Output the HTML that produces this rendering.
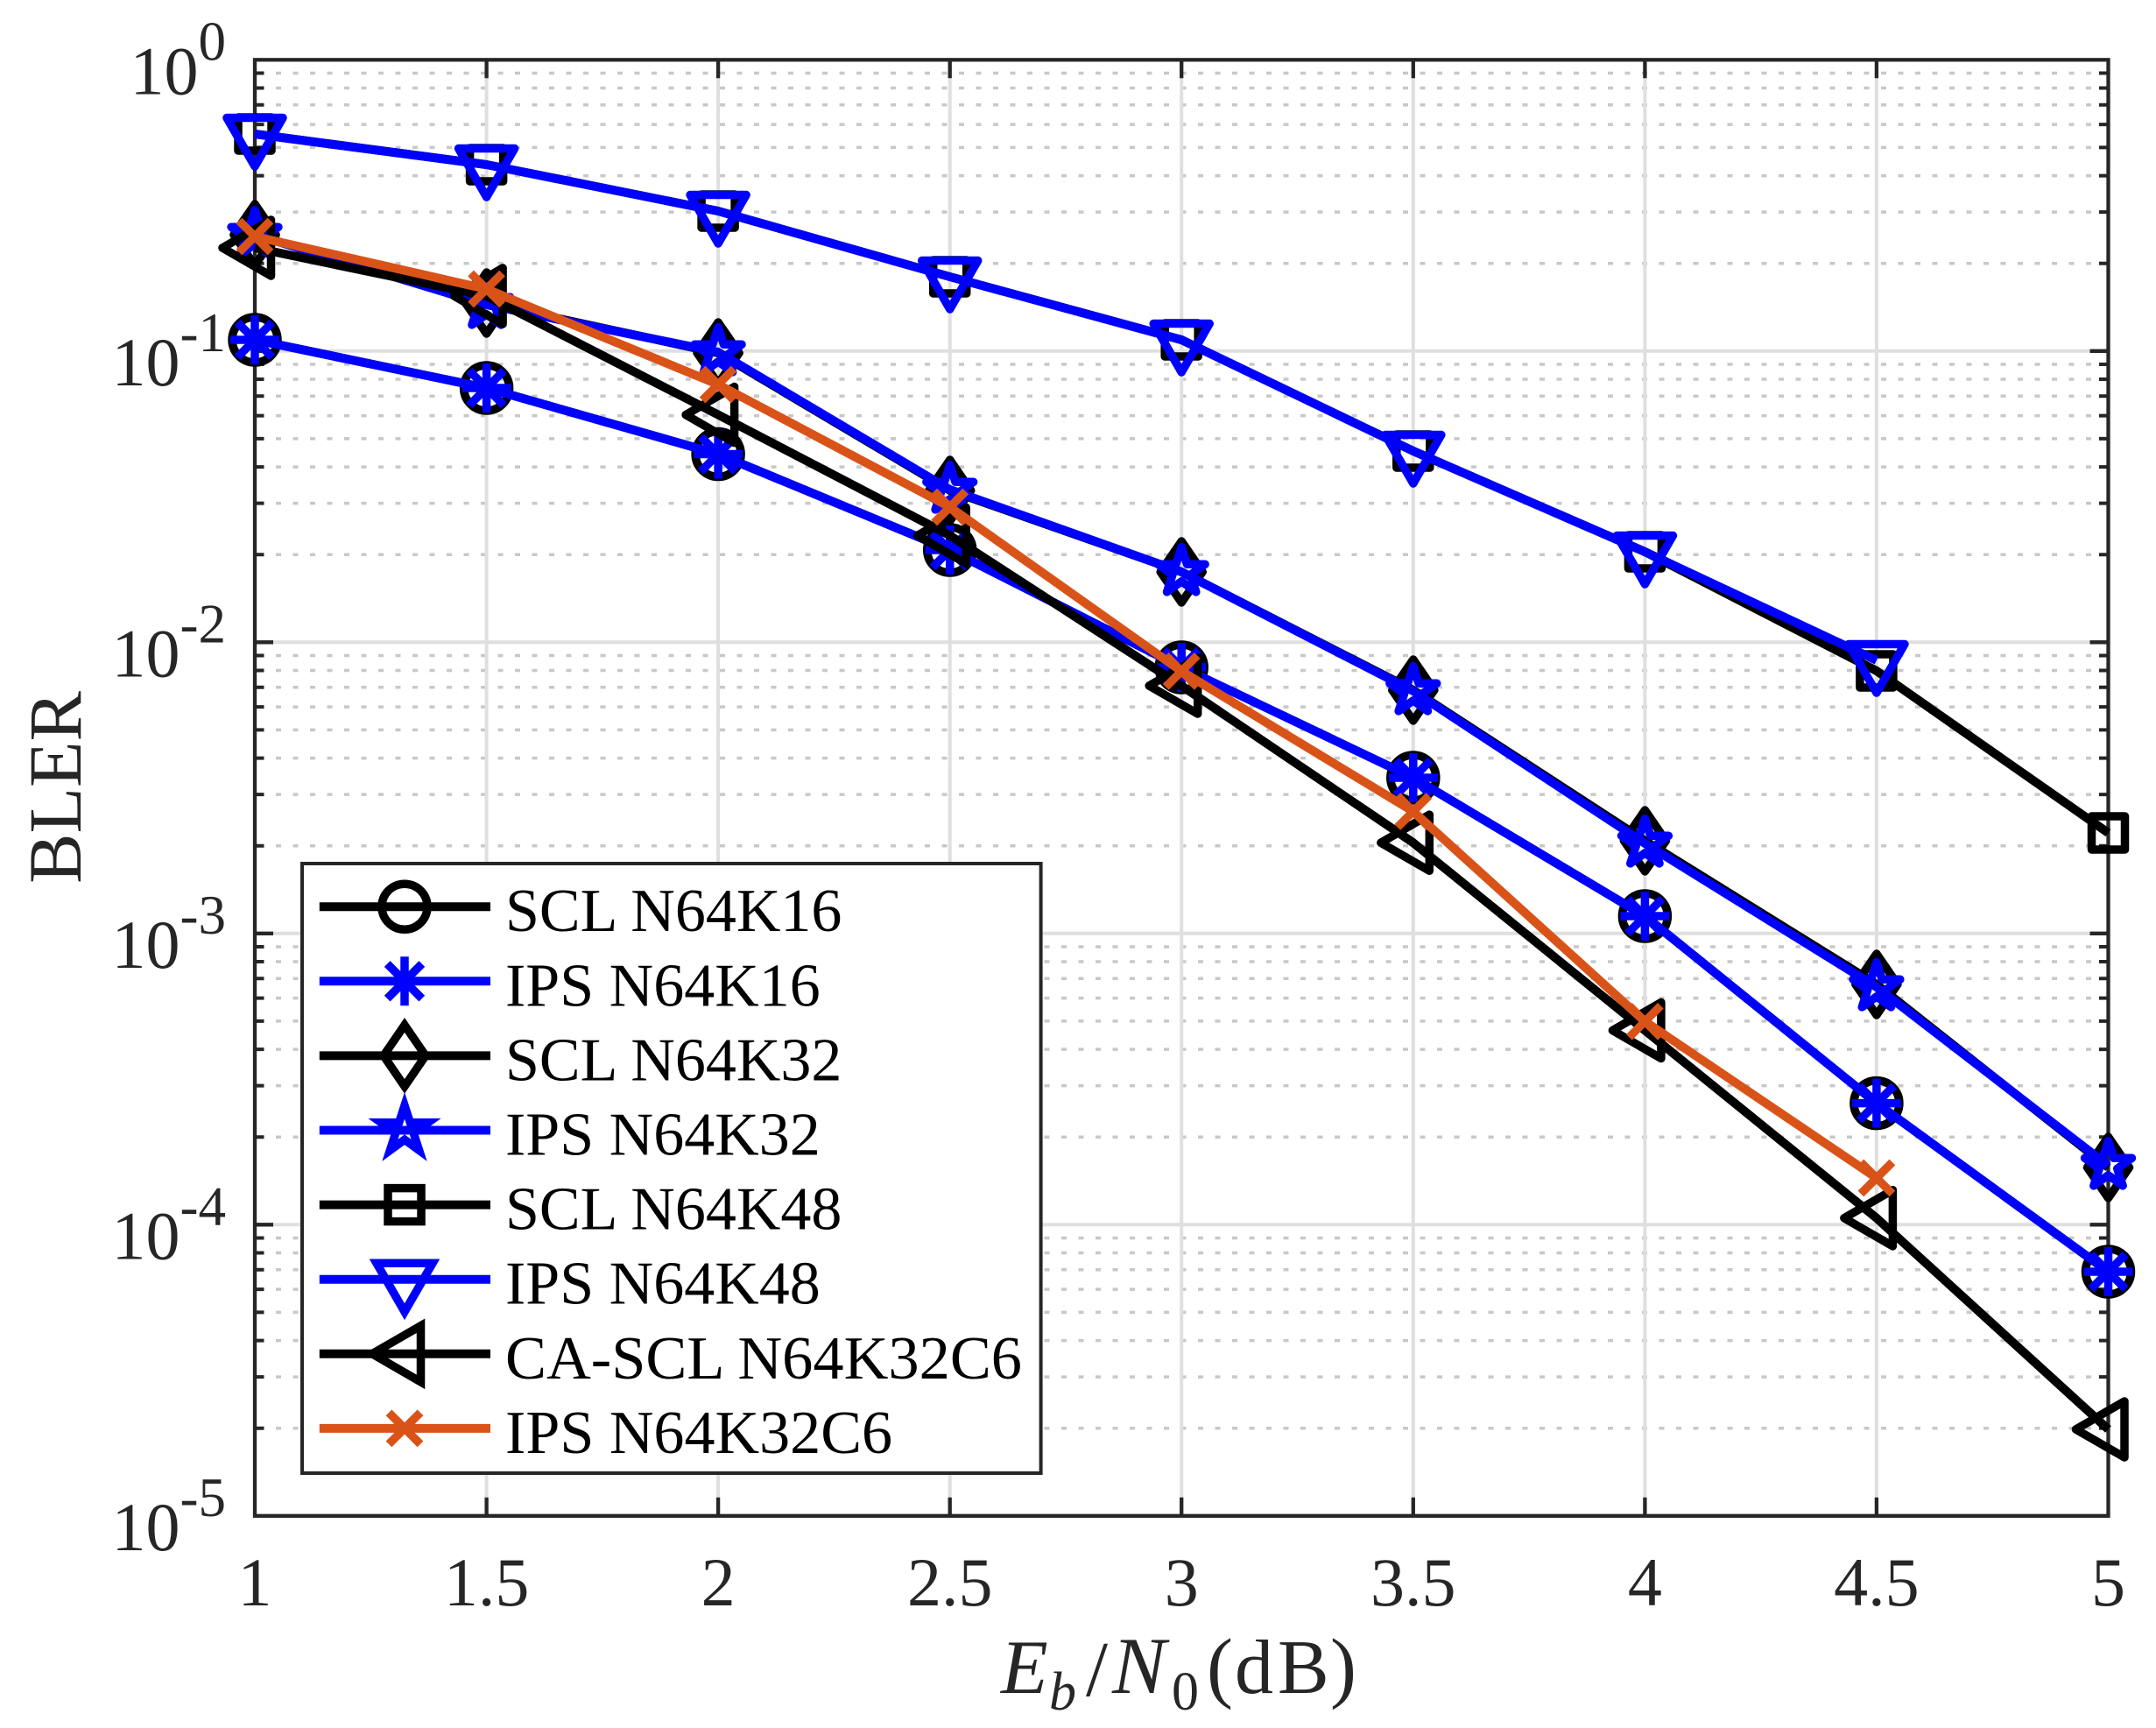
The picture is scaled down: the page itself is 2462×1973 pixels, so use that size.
<!DOCTYPE html>
<html>
<head>
<meta charset="utf-8">
<style>
  html,body{margin:0;padding:0;background:#fff;}
  svg{display:block;}
  text{font-family:"Liberation Serif","Times New Roman",serif;}
</style>
</head>
<body>
<svg width="2462" height="1973" viewBox="0 0 2462 1973" xmlns="http://www.w3.org/2000/svg">
  <defs>
    <g id="mgrid">
      <line x1="291" x2="2407.5" y1="83.52" y2="83.52"/>
      <line x1="291" x2="2407.5" y1="100.52" y2="100.52"/>
      <line x1="291" x2="2407.5" y1="119.80" y2="119.80"/>
      <line x1="291" x2="2407.5" y1="142.07" y2="142.07"/>
      <line x1="291" x2="2407.5" y1="168.39" y2="168.39"/>
      <line x1="291" x2="2407.5" y1="200.61" y2="200.61"/>
      <line x1="291" x2="2407.5" y1="242.16" y2="242.16"/>
      <line x1="291" x2="2407.5" y1="300.71" y2="300.71"/>
    </g>
    <g id="mtick">
      <path d="M291 83.52h10.5M291 100.52h10.5M291 119.80h10.5M291 142.07h10.5M291 168.39h10.5M291 200.61h10.5M291 242.16h10.5M291 300.71h10.5
               M2407.5 83.52h-10.5M2407.5 100.52h-10.5M2407.5 119.80h-10.5M2407.5 142.07h-10.5M2407.5 168.39h-10.5M2407.5 200.61h-10.5M2407.5 242.16h-10.5M2407.5 300.71h-10.5"/>
    </g>
    <circle id="mc" cx="0" cy="0" r="26" fill="none" stroke="#000" stroke-width="9.5"/>
    <path id="ma" d="M0,-28V28M-28,0H28M-19.8,-19.8L19.8,19.8M-19.8,19.8L19.8,-19.8" fill="none" stroke="#0000ff" stroke-width="9.5"/>
    <polygon id="md" points="0,-35 24,0 0,35 -24,0" fill="none" stroke="#000" stroke-width="9.5" stroke-miterlimit="10"/>
    <polygon id="mp" points="0,-28.3 6.35,-8.74 26.91,-8.75 10.27,3.34 16.63,22.9 0,10.8 -16.63,22.9 -10.27,3.34 -26.91,-8.75 -6.35,-8.74" fill="none" stroke="#0000ff" stroke-width="9.5" stroke-miterlimit="10"/>
    <rect id="ms" x="-19" y="-19" width="38" height="38" fill="none" stroke="#000" stroke-width="9.5"/>
    <polygon id="mv" points="0,37 32.04,-18.5 -32.04,-18.5" fill="none" stroke="#0000ff" stroke-width="9.5" stroke-miterlimit="10"/>
    <polygon id="ml" points="-37,0 18.5,-32.04 18.5,32.04" fill="none" stroke="#000" stroke-width="9.5" stroke-miterlimit="10"/>
    <path id="mx" d="M-18,-18L18,18M-18,18L18,-18" fill="none" stroke="#D95319" stroke-width="9.5"/>
  </defs>

  <rect x="0" y="0" width="2462" height="1973" fill="#fff"/>

  <!-- minor grid (dotted) -->
  <g stroke="#c8c8c8" stroke-width="3.5" stroke-dasharray="6 13.5" stroke-dashoffset="15" fill="none">
    <use href="#mgrid"/>
    <use href="#mgrid" transform="translate(0,332.5)"/>
    <use href="#mgrid" transform="translate(0,665)"/>
    <use href="#mgrid" transform="translate(0,997.5)"/>
    <use href="#mgrid" transform="translate(0,1330)"/>
  </g>

  <!-- major grid -->
  <g stroke="#dfdfdf" stroke-width="4" fill="none">
    <line x1="555.6" x2="555.6" y1="68.3" y2="1730.8"/>
    <line x1="820.1" x2="820.1" y1="68.3" y2="1730.8"/>
    <line x1="1084.7" x2="1084.7" y1="68.3" y2="1730.8"/>
    <line x1="1349.2" x2="1349.2" y1="68.3" y2="1730.8"/>
    <line x1="1613.8" x2="1613.8" y1="68.3" y2="1730.8"/>
    <line x1="1878.4" x2="1878.4" y1="68.3" y2="1730.8"/>
    <line x1="2142.9" x2="2142.9" y1="68.3" y2="1730.8"/>
    <line x1="291" x2="2407.5" y1="400.8" y2="400.8"/>
    <line x1="291" x2="2407.5" y1="733.3" y2="733.3"/>
    <line x1="291" x2="2407.5" y1="1065.8" y2="1065.8"/>
    <line x1="291" x2="2407.5" y1="1398.3" y2="1398.3"/>
  </g>

  <!-- axes box and ticks -->
  <g stroke="#262626" stroke-width="4.3" fill="none">
    <rect x="291" y="68.3" width="2116.5" height="1662.5"/>
    <path d="M555.6 1730.8v-21M820.1 1730.8v-21M1084.7 1730.8v-21M1349.2 1730.8v-21M1613.8 1730.8v-21M1878.4 1730.8v-21M2142.9 1730.8v-21
             M555.6 68.3v21M820.1 68.3v21M1084.7 68.3v21M1349.2 68.3v21M1613.8 68.3v21M1878.4 68.3v21M2142.9 68.3v21
             M291 400.8h21M291 733.3h21M291 1065.8h21M291 1398.3h21
             M2407.5 400.8h-21M2407.5 733.3h-21M2407.5 1065.8h-21M2407.5 1398.3h-21"/>
  </g>
  <g stroke="#262626" stroke-width="4" fill="none">
    <use href="#mtick"/>
    <use href="#mtick" transform="translate(0,332.5)"/>
    <use href="#mtick" transform="translate(0,665)"/>
    <use href="#mtick" transform="translate(0,997.5)"/>
    <use href="#mtick" transform="translate(0,1330)"/>
  </g>

  <!-- DATA -->
  <g fill="none" stroke-width="10" stroke-linejoin="round">
    <!-- SCL N64K16 -->
    <polyline stroke="#000" points="291,388 555.6,443 820.1,518.5 1084.7,628 1349.2,762 1613.8,888 1878.4,1046 2142.9,1259.6 2407.5,1452"/>
    <use href="#mc" x="291" y="388"/><use href="#mc" x="555.6" y="443"/><use href="#mc" x="820.1" y="518.5"/><use href="#mc" x="1084.7" y="628"/><use href="#mc" x="1349.2" y="762"/><use href="#mc" x="1613.8" y="888"/><use href="#mc" x="1878.4" y="1046"/><use href="#mc" x="2142.9" y="1259.6"/><use href="#mc" x="2407.5" y="1452"/>
    <!-- IPS N64K16 -->
    <polyline stroke="#0000ff" points="291,388 555.6,443 820.1,518.5 1084.7,628 1349.2,762 1613.8,888 1878.4,1046 2142.9,1259.6 2407.5,1452"/>
    <use href="#ma" x="291" y="388"/><use href="#ma" x="555.6" y="443"/><use href="#ma" x="820.1" y="518.5"/><use href="#ma" x="1084.7" y="628"/><use href="#ma" x="1349.2" y="762"/><use href="#ma" x="1613.8" y="888"/><use href="#ma" x="1878.4" y="1046"/><use href="#ma" x="2142.9" y="1259.6"/><use href="#ma" x="2407.5" y="1452"/>
    <!-- SCL N64K32 -->
    <polyline stroke="#000" points="291,268 555.6,346 820.1,403 1084.7,560 1349.2,653 1613.8,788 1878.4,960 2142.9,1124 2407.5,1333"/>
    <use href="#md" x="291" y="268"/><use href="#md" x="555.6" y="346"/><use href="#md" x="820.1" y="403"/><use href="#md" x="1084.7" y="560"/><use href="#md" x="1349.2" y="653"/><use href="#md" x="1613.8" y="788"/><use href="#md" x="1878.4" y="960"/><use href="#md" x="2142.9" y="1124"/><use href="#md" x="2407.5" y="1333"/>
    <!-- IPS N64K32 -->
    <polyline stroke="#0000ff" points="291,268 555.6,348 820.1,402 1084.7,559 1349.2,653 1613.8,789 1878.4,963 2142.9,1127 2407.5,1331"/>
    <use href="#mp" x="291" y="268"/><use href="#mp" x="555.6" y="348"/><use href="#mp" x="820.1" y="402"/><use href="#mp" x="1084.7" y="559"/><use href="#mp" x="1349.2" y="653"/><use href="#mp" x="1613.8" y="789"/><use href="#mp" x="1878.4" y="963"/><use href="#mp" x="2142.9" y="1127"/><use href="#mp" x="2407.5" y="1331"/>
    <!-- SCL N64K48 -->
    <polyline stroke="#000" points="291,153 555.6,188 820.1,241 1084.7,316 1349.2,388 1613.8,515 1878.4,630 2142.9,766 2407.5,951"/>
    <use href="#ms" x="291" y="153"/><use href="#ms" x="555.6" y="188"/><use href="#ms" x="820.1" y="241"/><use href="#ms" x="1084.7" y="316"/><use href="#ms" x="1349.2" y="388"/><use href="#ms" x="1613.8" y="515"/><use href="#ms" x="1878.4" y="630"/><use href="#ms" x="2142.9" y="766"/><use href="#ms" x="2407.5" y="951"/>
    <!-- IPS N64K48 -->
    <polyline stroke="#0000ff" points="291,153 555.6,188 820.1,241 1084.7,316 1349.2,388 1613.8,515 1878.4,630 2142.9,754"/>
    <use href="#mv" x="291" y="153"/><use href="#mv" x="555.6" y="188"/><use href="#mv" x="820.1" y="241"/><use href="#mv" x="1084.7" y="316"/><use href="#mv" x="1349.2" y="388"/><use href="#mv" x="1613.8" y="515"/><use href="#mv" x="1878.4" y="630"/><use href="#mv" x="2142.9" y="754"/>
    <!-- CA-SCL N64K32C6 -->
    <polyline stroke="#000" points="291,283 555.6,338 820.1,473.6 1084.7,611.4 1349.2,783 1613.8,962.2 1878.4,1176.5 2142.9,1390.8 2407.5,1632"/>
    <use href="#ml" x="291" y="283"/><use href="#ml" x="555.6" y="338"/><use href="#ml" x="820.1" y="473.6"/><use href="#ml" x="1084.7" y="611.4"/><use href="#ml" x="1349.2" y="783"/><use href="#ml" x="1613.8" y="962.2"/><use href="#ml" x="1878.4" y="1176.5"/><use href="#ml" x="2142.9" y="1390.8"/><use href="#ml" x="2407.5" y="1632"/>
    <!-- IPS N64K32C6 -->
    <polyline stroke="#D95319" points="291,270 555.6,330 820.1,439 1084.7,579 1349.2,766.4 1613.8,926.5 1878.4,1166.3 2142.9,1345"/>
    <use href="#mx" x="291" y="270"/><use href="#mx" x="555.6" y="330"/><use href="#mx" x="820.1" y="439"/><use href="#mx" x="1084.7" y="579"/><use href="#mx" x="1349.2" y="766.4"/><use href="#mx" x="1613.8" y="926.5"/><use href="#mx" x="1878.4" y="1166.3"/><use href="#mx" x="2142.9" y="1345"/>
  </g>

  <!-- LEGEND -->
  <rect x="345" y="986" width="843.6" height="696" fill="#fff" stroke="#262626" stroke-width="4"/>
  <g fill="none" stroke-width="10">
    <line x1="364.8" x2="560" y1="1035.2" y2="1035.2" stroke="#000"/>
    <use href="#mc" x="462" y="1035.2"/>
    <line x1="364.8" x2="560" y1="1120.3" y2="1120.3" stroke="#0000ff"/>
    <use href="#ma" x="462" y="1120.3"/>
    <line x1="364.8" x2="560" y1="1205.4" y2="1205.4" stroke="#000"/>
    <use href="#md" x="462" y="1205.4"/>
    <line x1="364.8" x2="560" y1="1290.5" y2="1290.5" stroke="#0000ff"/>
    <use href="#mp" x="462" y="1290.5"/>
    <line x1="364.8" x2="560" y1="1375.6" y2="1375.6" stroke="#000"/>
    <use href="#ms" x="462" y="1375.6"/>
    <line x1="364.8" x2="560" y1="1460.7" y2="1460.7" stroke="#0000ff"/>
    <use href="#mv" x="462" y="1460.7"/>
    <line x1="364.8" x2="560" y1="1545.8" y2="1545.8" stroke="#000"/>
    <use href="#ml" x="462" y="1545.8"/>
    <line x1="364.8" x2="560" y1="1630.9" y2="1630.9" stroke="#D95319"/>
    <use href="#mx" x="462" y="1630.9"/>
  </g>
  <g font-size="70" fill="#000">
    <text x="577" y="1063.2">SCL N64K16</text>
    <text x="577" y="1148.3">IPS N64K16</text>
    <text x="577" y="1233.4">SCL N64K32</text>
    <text x="577" y="1318.5">IPS N64K32</text>
    <text x="577" y="1403.6">SCL N64K48</text>
    <text x="577" y="1488.7">IPS N64K48</text>
    <text x="577" y="1573.8" textLength="590" lengthAdjust="spacingAndGlyphs">CA-SCL N64K32C6</text>
    <text x="577" y="1658.9" textLength="442" lengthAdjust="spacingAndGlyphs">IPS N64K32C6</text>
  </g>

  <!-- X tick labels -->
  <g font-size="78" fill="#262626" text-anchor="middle">
    <text x="291" y="1833">1</text>
    <text x="555.6" y="1833">1.5</text>
    <text x="820.1" y="1833">2</text>
    <text x="1084.7" y="1833">2.5</text>
    <text x="1349.2" y="1833">3</text>
    <text x="1613.8" y="1833">3.5</text>
    <text x="1878.4" y="1833">4</text>
    <text x="2142.9" y="1833">4.5</text>
    <text x="2407.5" y="1833">5</text>
  </g>

  <!-- Y tick labels -->
  <g font-size="78" fill="#262626" text-anchor="end">
    <text x="258" y="107.3">10<tspan font-size="63" dy="-39">0</tspan></text>
    <text x="258" y="439.8">10<tspan font-size="63" dy="-39">-1</tspan></text>
    <text x="258" y="772.3">10<tspan font-size="63" dy="-39">-2</tspan></text>
    <text x="258" y="1104.8">10<tspan font-size="63" dy="-39">-3</tspan></text>
    <text x="258" y="1437.3">10<tspan font-size="63" dy="-39">-4</tspan></text>
    <text x="258" y="1769.8">10<tspan font-size="63" dy="-39">-5</tspan></text>
  </g>

  <!-- Y label -->
  <text x="92" y="899" font-size="86" fill="#262626" text-anchor="middle" transform="rotate(-90 92 899)">BLER</text>

  <!-- X label -->
  <g fill="#262626">
    <text x="1143" y="1933" font-size="88" font-style="italic">E</text>
    <text x="1198" y="1952" font-size="62" font-style="italic">b</text>
    <text x="1240" y="1936" font-size="90">/</text>
    <text x="1270" y="1933" font-size="92" font-style="italic">N</text>
    <text x="1338" y="1952" font-size="62">0</text>
    <text x="1378" y="1933" font-size="90">(</text>
    <text x="1410" y="1933" font-size="88">d</text>
    <text x="1459" y="1933" font-size="88">B</text>
    <text x="1519" y="1933" font-size="90">)</text>
  </g>
</svg>
</body>
</html>
